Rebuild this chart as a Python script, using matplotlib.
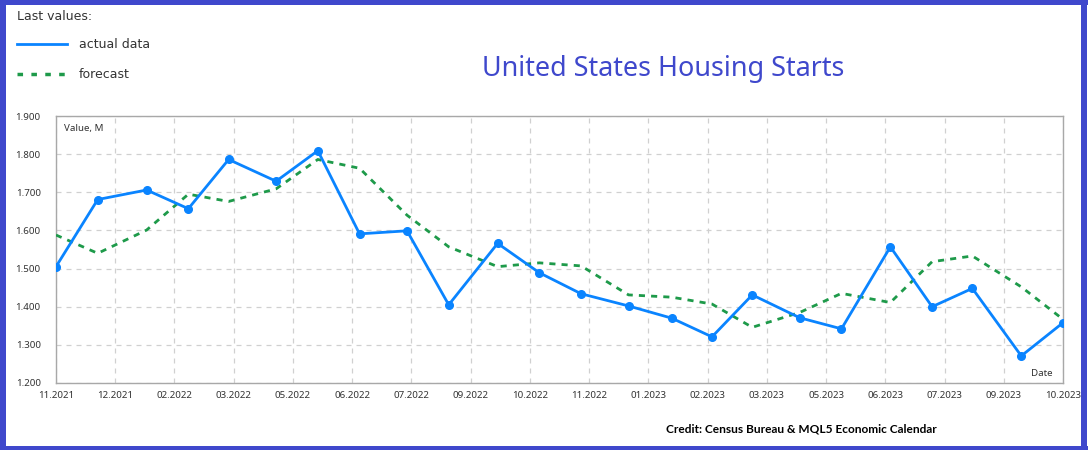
import matplotlib
matplotlib.use("Agg")
import matplotlib.pyplot as plt
import matplotlib.dates as mdates
from matplotlib.patches import Rectangle
from matplotlib.lines import Line2D
import numpy as np
import datetime as dt

# ---- data ----
release_dates = ["2021-11-17", "2021-12-16", "2022-01-19", "2022-02-17", "2022-03-17",
                 "2022-04-19", "2022-05-18", "2022-06-16", "2022-07-19", "2022-08-17",
                 "2022-09-20", "2022-10-19", "2022-11-17", "2022-12-20", "2023-01-19",
                 "2023-02-16", "2023-03-16", "2023-04-18", "2023-05-17", "2023-06-20",
                 "2023-07-19", "2023-08-16", "2023-09-19", "2023-10-18"]
actual = [1.505, 1.681, 1.706, 1.657, 1.786, 1.729, 1.809, 1.591, 1.599, 1.405,
          1.566, 1.489, 1.434, 1.402, 1.370, 1.321, 1.431, 1.371, 1.342, 1.557,
          1.400, 1.448, 1.271, 1.358]
forecast = [1.588, 1.540, 1.601, 1.695, 1.676, 1.709, 1.786, 1.763, 1.640, 1.557,
            1.505, 1.515, 1.507, 1.431, 1.425, 1.407, 1.346, 1.385, 1.435, 1.411,
            1.518, 1.533, 1.452, 1.367]
x_tick_labels = ["11.2021", "12.2021", "02.2022", "03.2022", "05.2022", "06.2022",
                 "07.2022", "09.2022", "10.2022", "11.2022", "01.2023", "02.2023",
                 "03.2023", "05.2023", "06.2023", "07.2023", "09.2023", "10.2023"]
y_ticks = [1.2, 1.3, 1.4, 1.5, 1.6, 1.7, 1.8, 1.9]

title = "United States Housing Starts"
credit = "Credit: Census Bureau & MQL5 Economic Calendar"

# ---- styling ----
W, H = 1088, 450
BLUE_FRAME = "#3F48CC"
C_ACT = "#0A84FF"
C_FC = "#1E9A4A"
TXT = "#333333"
TICKFONT = "Noto Sans"

fig = plt.figure(figsize=(W / 100, H / 100), dpi=100)
fig.patch.set_facecolor("white")

def px_rect(x0, y0, x1, y1, color):
    # pixel coords from top-left
    fig.patches.append(Rectangle((x0 / W, 1 - y1 / H), (x1 - x0) / W, (y1 - y0) / H,
                                 transform=fig.transFigure, facecolor=color,
                                 edgecolor="none", zorder=10))

px_rect(0, 0, W, 4.5, BLUE_FRAME)        # top
px_rect(0, 0, 6, H, BLUE_FRAME)          # left
px_rect(1081, 0, 1087, H, BLUE_FRAME)    # right
px_rect(0, 446, W, H, BLUE_FRAME)        # bottom

ax = fig.add_axes([56 / W, 1 - 383 / H, (1063 - 56) / W, (383 - 116) / H])
dates = [mdates.date2num(dt.datetime.strptime(d, "%Y-%m-%d")) for d in release_dates]
xmin, xmax = dates[0], dates[-1]

ax.plot(dates, forecast, color=C_FC, lw=2, linestyle=(0, (2.2, 2.2)), zorder=3)
ax.plot(dates, actual, color=C_ACT, lw=2, marker="o", markersize=5.5, zorder=4)

ax.set_xlim(xmin, xmax)
ax.set_ylim(1.2, 1.9)
ax.set_xticks(np.linspace(xmin, xmax, len(x_tick_labels)))
ax.set_xticklabels(x_tick_labels, family=TICKFONT)
ax.set_yticks(y_ticks)
ax.set_yticklabels([f"{v:.3f}" for v in y_ticks], family=TICKFONT)
ax.tick_params(axis="both", length=0, labelsize=7, labelcolor=TXT)
ax.tick_params(axis="x", pad=6)
ax.tick_params(axis="y", pad=11)
ax.grid(True, color="#D0D0D0", linestyle=(0, (4, 4)), lw=0.9)
ax.set_axisbelow(True)
for s in ax.spines.values():
    s.set_color("#A8A8A8")
    s.set_linewidth(1)

ax.text(8 / (1063 - 56), 1 - 12 / 267, "Value, M", transform=ax.transAxes,
        fontsize=7, color=TXT, va="center", ha="left", family=TICKFONT)
ax.text(1 - 10 / (1063 - 56), 9 / 267, "Date", transform=ax.transAxes,
        fontsize=7, color=TXT, va="center", ha="right", family=TICKFONT)

# title
fig.text(663 / W, 1 - 69 / H, title, fontsize=19.4, color=BLUE_FRAME,
         ha="center", va="center", family="Noto Sans")

# legend block
fig.text(17 / W, 1 - 16 / H, "Last values:", fontsize=9, color=TXT, va="center", ha="left")
fig.lines.append(Line2D([17 / W, 67 / W], [1 - 44 / H, 1 - 44 / H], transform=fig.transFigure,
                        color=C_ACT, lw=2))
fig.text(79 / W, 1 - 44 / H, "actual data", fontsize=9, color=TXT, va="center", ha="left")
fig.lines.append(Line2D([17 / W, 67 / W], [1 - 74 / H, 1 - 74 / H], transform=fig.transFigure,
                        color=C_FC, lw=2.5, linestyle=(0, (1.6, 2.4))))
fig.text(79 / W, 1 - 74 / H, "forecast", fontsize=9, color=TXT, va="center", ha="left")

# credit
fig.text(666 / W, 1 - 429 / H, credit, fontsize=8.6, color="black", fontweight="bold",
         ha="left", va="center", family="Lato")

fig.savefig("out.png", dpi=100, facecolor="white")
